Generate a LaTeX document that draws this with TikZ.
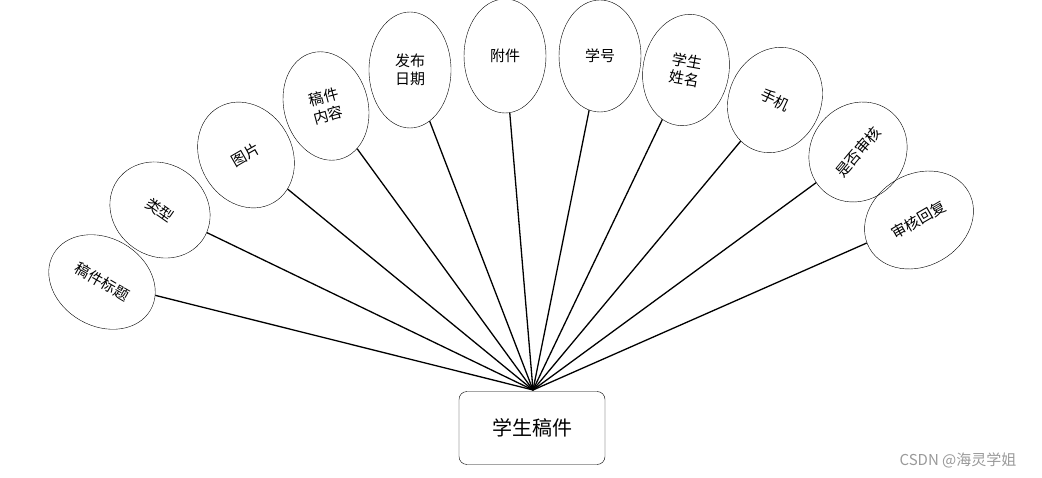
\documentclass[tikz,border=0pt]{standalone}
\usepackage{fontspec}
\setmainfont{Noto Sans CJK SC}
\usetikzlibrary{shapes.geometric}
\begin{document}
\begin{tikzpicture}[x=1pt,y=-1pt,
  attr/.style={draw,ellipse,inner sep=0pt,font=\fontsize{15}{18}\selectfont,align=center},
  link/.style={line width=1.3pt}]
\useasboundingbox (0,0) rectangle (1042,478);
\node[draw,rounded corners=8pt,minimum width=146pt,minimum height=73pt,font=\fontsize{20}{24}\selectfont] (m) at (532,428) {学生稿件};
\coordinate (h) at (533,390);
\node[attr,minimum width=112pt,minimum height=88pt,rotate=-30] (a1) at (102,282) {稿件标题};
\node[attr,minimum width=104pt,minimum height=92pt,rotate=-35] (a2) at (160,210) {类型};
\node[attr,minimum width=92pt,minimum height=110pt,rotate=30] (a3) at (246,155) {图片};
\node[attr,minimum width=84pt,minimum height=110pt,rotate=15] (a4) at (326,106) {稿件\\内容};
\node[attr,minimum width=82pt,minimum height=116pt] (a5) at (410,70) {发布\\日期};
\node[attr,minimum width=82pt,minimum height=114pt] (a6) at (505,56) {附件};
\node[attr,minimum width=82pt,minimum height=112pt] (a7) at (600,56) {学号};
\node[attr,minimum width=86pt,minimum height=112pt,rotate=-10] (a8) at (686,70) {学生\\姓名};
\node[attr,minimum width=92pt,minimum height=108pt,rotate=-25] (a9) at (775,100) {手机};
\node[attr,minimum width=104pt,minimum height=94pt,rotate=50] (a10) at (858,152) {是否审核};
\node[attr,minimum width=114pt,minimum height=92pt,rotate=30] (a11) at (919,220) {审核回复};
\foreach \i in {1,...,11} \draw[link] (h) -- (a\i);
\node[text=gray!80,font=\fontsize{15}{17}\selectfont] (w) at (958,460) {CSDN @海灵学姐};
\end{tikzpicture}
\end{document}
